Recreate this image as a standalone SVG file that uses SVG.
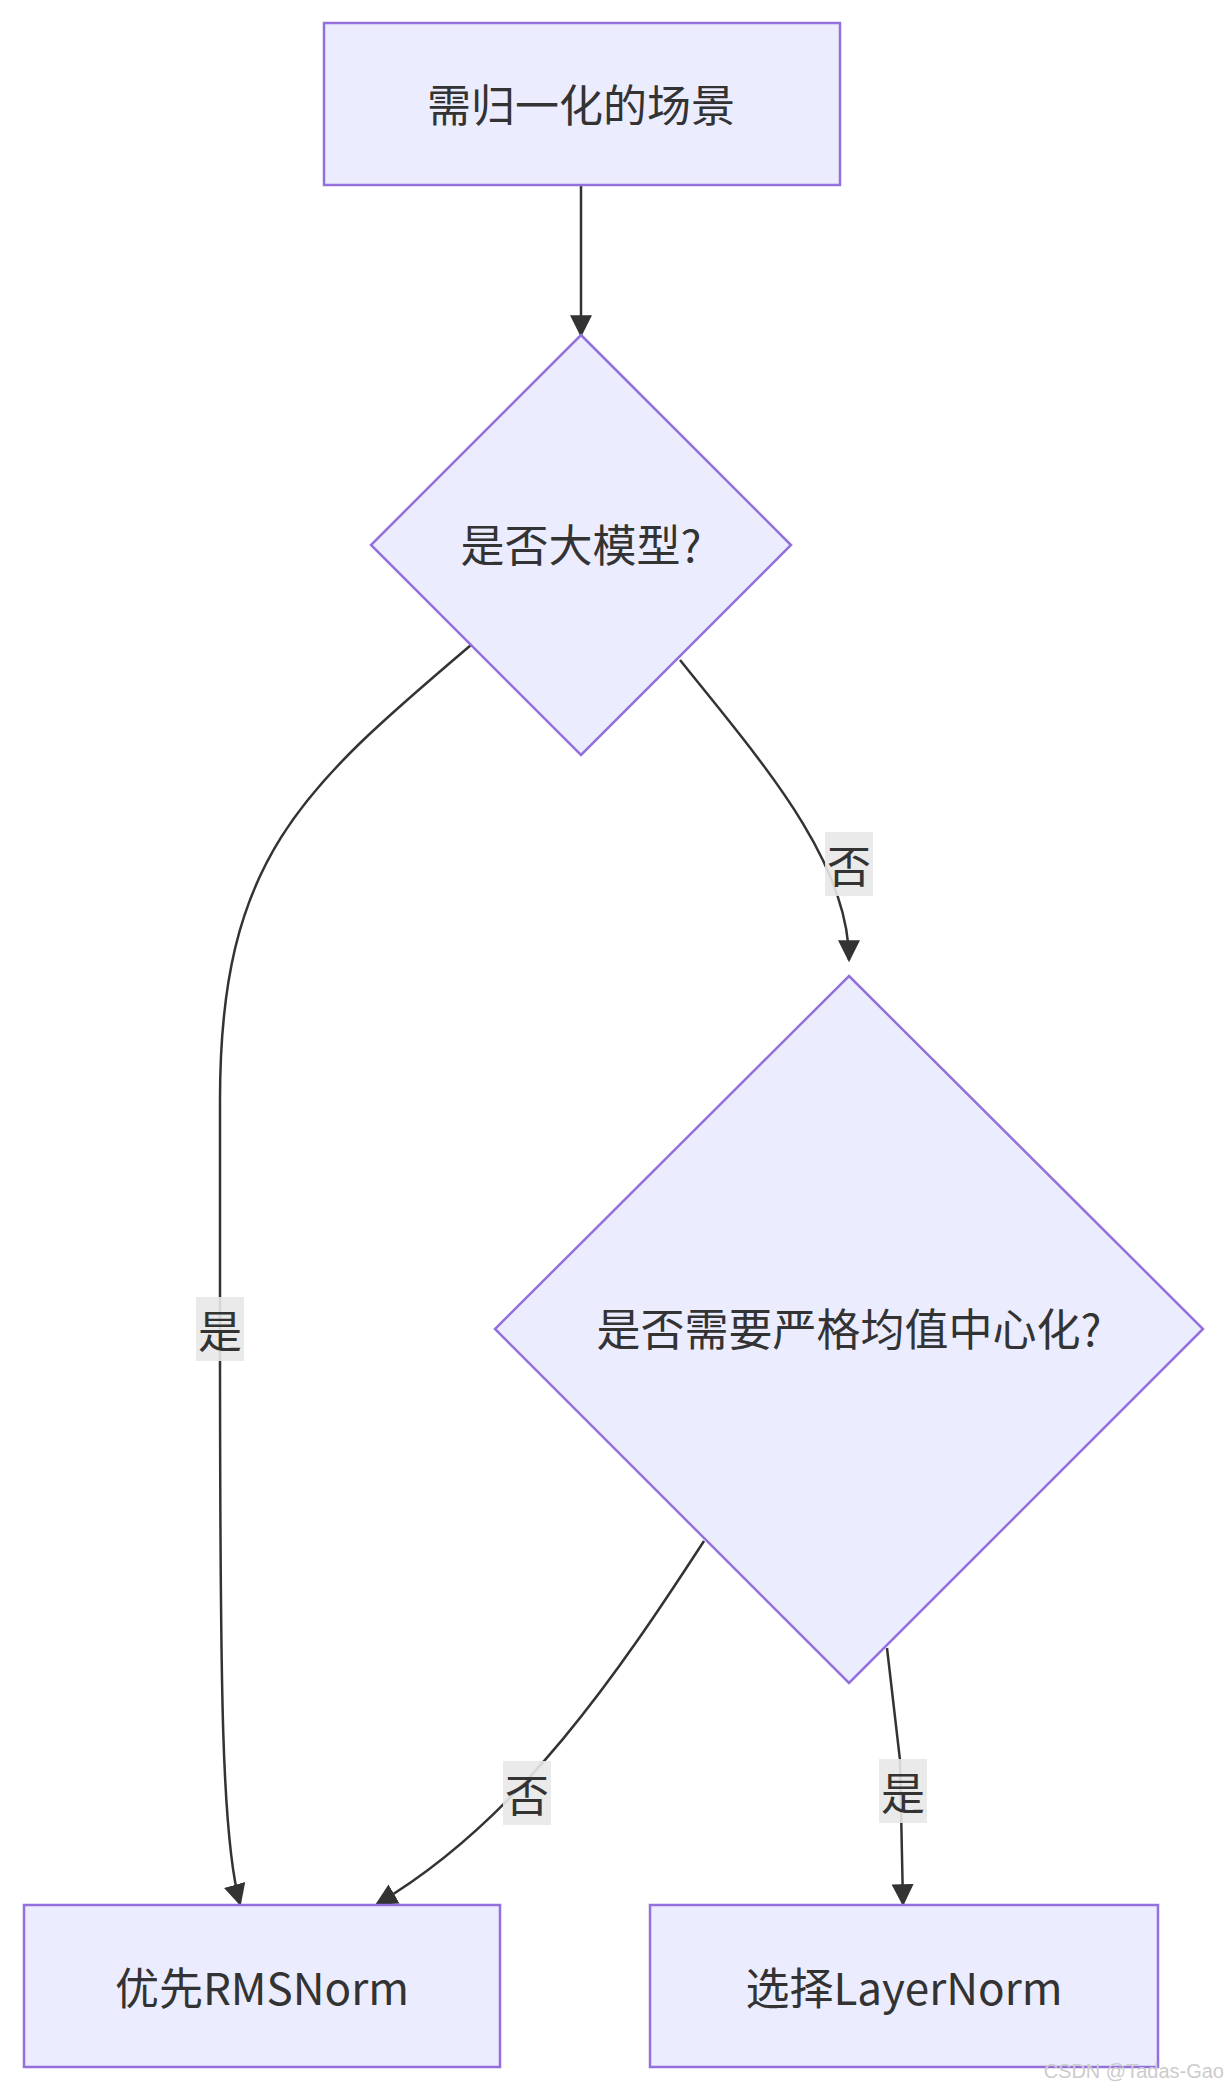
<svg xmlns="http://www.w3.org/2000/svg" width="1228" height="2093" viewBox="0 0 1228 2093">
<style>
.n{fill:#ECECFF;stroke:#9370DB;stroke-width:2.5}
.t{font-family:"Noto Sans CJK SC","Liberation Sans",sans-serif;font-size:44px;fill:#333;text-anchor:middle;dominant-baseline:central}
.e{fill:none;stroke:#333;stroke-width:2.5;marker-end:url(#a)}
.lb{fill:#e8e8e8;opacity:0.9}
</style>
<defs><marker id="a" viewBox="0 0 10 10" refX="9" refY="5" markerWidth="9" markerHeight="9" markerUnits="userSpaceOnUse" orient="auto"><path d="M0,0L10,5L0,10z" fill="#333" transform="scale(1)"/></marker>
<marker id="b" viewBox="0 0 10 10" refX="9" refY="5" markerWidth="22" markerHeight="22" markerUnits="userSpaceOnUse" orient="auto"><path d="M0,0L10,5L0,10z" fill="#333"/></marker></defs>
<g id="edges" style="--m:url(#b)">
<path class="e" style="marker-end:url(#b)" d="M581,185 L581,335"/>
<path class="e" style="marker-end:url(#b)" d="M471,645 C300,790 220,860 220,1100 L220,1333 C220,1700 222,1840 240,1904"/>
<path class="e" style="marker-end:url(#b)" d="M680,660 C760,760 849,860 849,960"/>
<path class="e" style="marker-end:url(#b)" d="M704,1541 C620,1670 520,1820 377,1904"/>
<path class="e" style="marker-end:url(#b)" d="M887,1648 L900,1760 L903,1904"/>
<rect class="lb" x="196" y="1297" width="48" height="64"/><text class="t" x="220" y="1329">是</text>
<rect class="lb" x="825" y="832" width="48" height="64"/><text class="t" x="849" y="864">否</text>
<rect class="lb" x="503" y="1761" width="48" height="64"/><text class="t" x="527" y="1793">否</text>
<rect class="lb" x="879" y="1759" width="48" height="64"/><text class="t" x="903" y="1791">是</text>
</g>
<g id="n1"><rect class="n" x="324" y="23" width="516" height="162"/><text class="t" x="581" y="103">需归一化的场景</text></g>
<g id="n2"><polygon class="n" points="581,335 791,545 581,755 371,545"/><text class="t" x="581" y="543">是否大模型?</text></g>
<g id="n3"><polygon class="n" points="849,976 1203,1329 849,1683 495,1329"/><text class="t" x="849" y="1327">是否需要严格均值中心化?</text></g>
<g id="n4"><rect class="n" x="24" y="1905" width="476" height="162"/><text class="t" x="262" y="1986">优先RMSNorm</text></g>
<g id="n5"><rect class="n" x="650" y="1905" width="508" height="162"/><text class="t" x="904" y="1986">选择LayerNorm</text></g>
<text x="1224" y="2078" style="font-family:'Liberation Sans',sans-serif;font-size:20px;fill:#ccc;text-anchor:end">CSDN @Tadas-Gao</text>
</svg>
